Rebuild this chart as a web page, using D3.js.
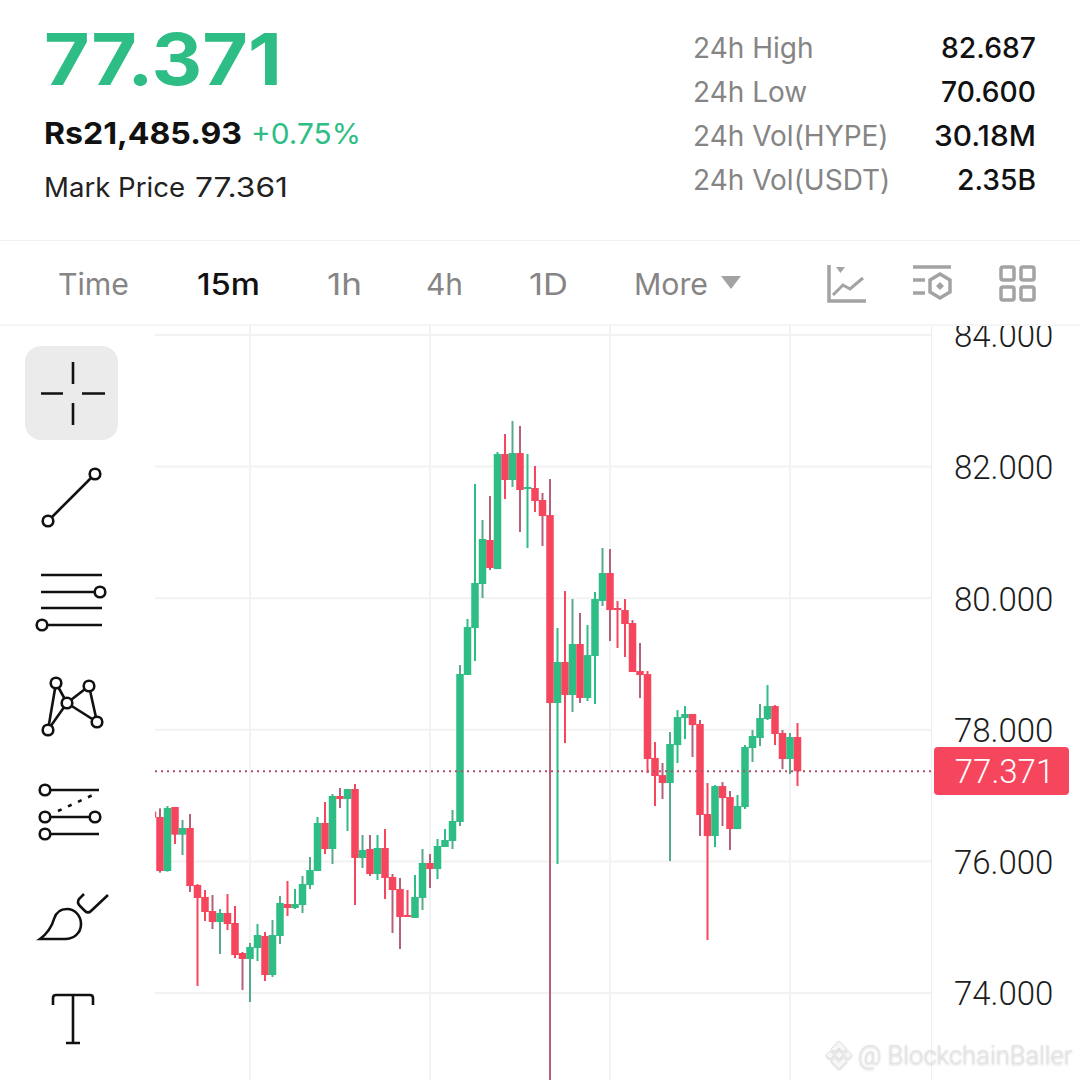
<!DOCTYPE html>
<html>
<head>
<meta charset="utf-8">
<script src="https://cdnjs.cloudflare.com/ajax/libs/d3/7.8.5/d3.min.js"></script>
<style>
    html, body { margin: 0; padding: 0; background: #fff; }
    svg { display: block; }
    text { font-family: Inter, "Noto Sans", sans-serif; }
</style>
</head>
<body>
<svg id="chart" width="1080" height="1080"></svg>
<script>
// candles, oldest first (the first one is cut by the left edge of the plot)
var opens = [76.756, 76.675, 75.854, 76.827, 76.406, 76.508, 75.641, 75.459, 75.246, 75.079, 75.216, 75.064, 74.608, 74.517, 74.684, 74.866, 74.273, 74.866, 75.352, 75.292, 75.337, 75.641, 75.854, 76.584, 76.188, 76.994, 76.948, 77.100, 76.052, 76.188, 75.808, 76.204, 75.763, 75.580, 75.185, 75.140, 75.444, 75.976, 75.884, 76.219, 76.310, 76.599, 78.833, 79.547, 80.216, 80.884, 80.443, 82.191, 81.796, 82.206, 81.659, 81.675, 81.492, 81.264, 78.407, 79.030, 78.529, 79.304, 78.483, 79.121, 79.957, 80.383, 79.851, 79.820, 79.623, 78.893, 78.847, 77.571, 77.312, 77.191, 77.768, 78.179, 78.240, 78.088, 76.720, 76.385, 77.145, 76.978, 76.492, 76.826, 77.723, 77.875, 78.164, 78.361, 77.951, 77.556, 77.890];
var highs = [76.756, 76.806, 76.842, 76.827, 76.629, 76.720, 75.656, 75.565, 75.489, 75.276, 75.504, 75.322, 74.623, 74.760, 75.049, 74.927, 75.109, 75.474, 75.702, 75.580, 75.778, 76.067, 76.675, 76.903, 77.024, 77.115, 77.100, 77.176, 76.401, 76.401, 76.401, 76.492, 75.808, 75.748, 75.565, 75.793, 76.188, 76.112, 76.340, 76.492, 76.781, 78.984, 79.684, 81.735, 81.188, 81.553, 82.222, 82.495, 82.693, 82.617, 82.191, 82.009, 81.599, 81.811, 79.547, 80.109, 79.988, 79.775, 79.592, 80.094, 80.763, 80.747, 79.957, 79.987, 79.668, 79.319, 78.893, 77.814, 77.495, 77.966, 78.300, 78.361, 78.240, 78.148, 77.191, 77.160, 77.206, 77.069, 77.009, 77.768, 77.996, 78.392, 78.680, 78.376, 77.996, 77.951, 78.103];
var lows = [76.665, 75.829, 75.844, 76.264, 76.097, 75.535, 74.106, 75.094, 74.972, 74.593, 74.957, 74.532, 74.045, 73.863, 74.486, 74.182, 74.243, 74.745, 75.170, 75.276, 75.216, 75.580, 75.854, 76.112, 75.960, 76.811, 76.462, 75.337, 75.900, 75.778, 75.717, 75.428, 74.912, 74.669, 75.155, 75.140, 75.261, 75.596, 75.732, 76.219, 76.188, 76.538, 78.833, 79.045, 80.003, 80.428, 80.443, 81.507, 81.690, 81.006, 80.763, 81.310, 80.793, 72.400, 75.960, 77.799, 78.270, 78.407, 78.437, 78.392, 79.881, 79.349, 79.243, 79.106, 78.878, 78.483, 77.343, 76.841, 76.948, 76.005, 77.495, 77.860, 77.586, 76.385, 74.805, 76.218, 76.537, 76.173, 76.492, 76.796, 77.510, 77.753, 78.148, 77.768, 77.404, 77.328, 77.145];
var closes = [76.665, 75.854, 76.811, 76.406, 76.508, 75.626, 75.444, 75.231, 75.079, 75.216, 75.049, 74.577, 74.517, 74.699, 74.881, 74.273, 74.881, 75.368, 75.292, 75.352, 75.656, 75.869, 76.584, 76.188, 76.994, 76.948, 77.100, 76.052, 76.173, 75.808, 76.204, 75.748, 75.565, 75.155, 75.155, 75.459, 75.976, 75.884, 76.234, 76.325, 76.614, 78.848, 79.562, 80.231, 80.899, 80.459, 82.191, 81.796, 82.206, 81.644, 81.690, 81.477, 81.249, 78.407, 79.030, 78.529, 79.304, 78.483, 79.136, 79.988, 80.383, 79.820, 79.820, 79.607, 78.878, 78.832, 77.556, 77.297, 77.191, 77.784, 78.194, 78.240, 78.072, 76.705, 76.385, 77.145, 76.963, 76.492, 76.841, 77.738, 77.905, 78.179, 78.361, 77.936, 77.556, 77.890, 77.371];

var priceTicks = [84, 82, 80, 78, 76, 74];
var timeGridCandles = [13, 37, 61, 85];
var lastPrice = 77.371;

var statLabels = ['24h High', '24h Low', '24h Vol(HYPE)', '24h Vol(USDT)'];
var statValues = ['82.687', '70.600', '30.18M', '2.35B'];
var tabLabels = ['Time', '15m', '1h', '4h', '1D', 'More'];

// where the text runs in the picture, Inter is a little narrower than the app font
var statWidths = [95, 95, 102, 79];
var tabStarts = [58, 197, 327, 426, 529, 634];
var tabWidths = [71, 63, 35, 37, 39, 74];

var GREEN = '#2ebd85', RED = '#f6465d';
var GREEN_MUTED = '#57a98b', RED_MUTED = '#b3627a';
var GREY = '#858585', ICON_GREY = '#a3a3a3', INK = '#111111';
var THIN_FONT = 'Roboto, sans-serif';

var svg = d3.select('#chart');

//////////////////////   CHART    //////////////////////

var x = d3.scaleLinear().domain([0, opens.length - 1]).range([152.5, 797.5]);
var y = d3.scaleLinear().domain([84, 74]).range([335, 993]);

svg.append('clipPath').attr('id', 'plot')
    .append('rect').attr('x', 155).attr('y', 325).attr('width', 777).attr('height', 755);
svg.append('clipPath').attr('id', 'axisInner')
    .append('rect').attr('x', -20).attr('y', 324).attr('width', 140).attr('height', 756);

var grid = svg.append('g');
grid.selectAll('line.h').data(priceTicks).enter().append('line')
    .attr('x1', 155).attr('x2', 932)
    .attr('y1', function (d) { return y(d); })
    .attr('y2', function (d) { return y(d); })
    .attr('stroke', '#f2f2f2').attr('stroke-width', 2);
grid.selectAll('line.v').data(timeGridCandles).enter().append('line')
    .attr('x1', function (d) { return x(d); })
    .attr('x2', function (d) { return x(d); })
    .attr('y1', 325).attr('y2', 1080)
    .attr('stroke', '#f2f2f2').attr('stroke-width', 2);
grid.append('line').attr('x1', 931.5).attr('x2', 931.5).attr('y1', 325).attr('y2', 1080)
    .attr('stroke', '#efefef').attr('stroke-width', 1);

var candles = svg.append('g').attr('clip-path', 'url(#plot)');
var rows = d3.range(opens.length);

function isUp(i) { return closes[i] >= opens[i]; }

// every 4 candles the wicks land between two device pixels and come out duller
function wickColor(i) {
    var dull = i % 4 < 2;
    if (isUp(i)) {
        return dull ? GREEN_MUTED : GREEN;
    }
    return dull ? RED_MUTED : RED;
}

candles.selectAll('rect.wick').data(rows).enter().append('rect')
    .attr('class', 'wick')
    .attr('x', function (i) { return x(i) - 1; })
    .attr('width', 2)
    .attr('y', function (i) { return y(highs[i]); })
    .attr('height', function (i) { return y(lows[i]) - y(highs[i]); })
    .attr('fill', wickColor);

candles.selectAll('rect.body').data(rows).enter().append('rect')
    .attr('class', 'body')
    .attr('x', function (i) { return x(i) - 3.75; })
    .attr('width', 7.5)
    .attr('y', function (i) { return y(Math.max(opens[i], closes[i])); })
    .attr('height', function (i) { return Math.max(1, Math.abs(y(opens[i]) - y(closes[i]))); })
    .attr('fill', function (i) { return isUp(i) ? GREEN : RED; });

svg.append('line')
    .attr('x1', 155).attr('x2', 932)
    .attr('y1', y(lastPrice)).attr('y2', y(lastPrice))
    .attr('stroke', '#b84a68').attr('stroke-width', 2).attr('stroke-dasharray', '2 4');

var yAxis = d3.axisRight(y).tickValues(priceTicks).tickSize(0).tickPadding(0)
    .tickFormat(d3.format('.3f'));
var axisG = svg.append('g')
    .attr('transform', 'translate(954,0)')
    .attr('clip-path', 'url(#axisInner)')
    .call(yAxis);
axisG.select('.domain').remove();
axisG.selectAll('text')
    .attr('font-size', 33)
    .attr('font-weight', 300)
    .attr('fill', '#1c1c1c')
    .attr('dy', '0.36em')
    .style('font-family', THIN_FONT);

svg.append('rect').attr('x', 934).attr('y', 747).attr('width', 135).attr('height', 48).attr('rx', 4).attr('fill', RED);
svg.append('text').attr('x', 1004.5).attr('y', 783).attr('text-anchor', 'middle')
    .attr('font-size', 33).attr('font-weight', 300).attr('fill', '#fff')
    .style('font-family', THIN_FONT)
    .text(d3.format('.3f')(lastPrice));

//////////////////////   HEADER    //////////////////////

function label(px, py, size, weight, color, txt, anchor, width) {
    var t = svg.append('text')
        .attr('x', px).attr('y', py)
        .attr('font-size', size).attr('font-weight', weight)
        .attr('fill', color).attr('text-anchor', anchor || 'start')
        .text(txt);
    if (width) {
        t.attr('textLength', width).attr('lengthAdjust', 'spacingAndGlyphs');
    }
    return t;
}

label(44, 85, 72, 700, GREEN, '77.371', 'start', 238);
label(44, 144, 30, 700, INK, 'Rs21,485.93', 'start', 198);
label(251, 144, 29, 400, GREEN, '+0.75%', 'start', 110);
label(44, 197, 27, 400, '#222', 'Mark Price', 'start', 141);
label(195, 197, 27, 400, '#222', '77.361', 'start', 93);

statLabels.forEach(function (s, i) {
    label(693, 58 + i * 44, 28, 400, GREY, s);
    label(1036, 58 + i * 44, 28, 500, INK, statValues[i], 'end', statWidths[i]);
});

svg.append('line').attr('x1', 0).attr('x2', 1080).attr('y1', 240.5).attr('y2', 240.5).attr('stroke', '#f0f0f0');
svg.append('line').attr('x1', 0).attr('x2', 1080).attr('y1', 325).attr('y2', 325).attr('stroke', '#f5f5f5').attr('stroke-width', 2);

tabLabels.forEach(function (s, i) {
    label(tabStarts[i], 295, 30, i === 1 ? 500 : 400, i === 1 ? INK : GREY, s, 'start', tabWidths[i]);
});
svg.append('path').attr('d', 'M721 276 L741 276 L731 289 Z').attr('fill', ICON_GREY);

var topIcons = svg.append('g').attr('fill', 'none').attr('stroke', ICON_GREY).attr('stroke-width', 3.5);
topIcons.append('path').attr('d', 'M829 265 V301 H866');
topIcons.append('path').attr('d', 'M836 267 H845 L840.5 273 Z').attr('fill', ICON_GREY).attr('stroke', 'none');
topIcons.append('path').attr('d', 'M833 295 L843 285 L850 289 L863 278').attr('stroke-width', 3);
topIcons.append('path').attr('d', 'M913 267 H951 M913 280 H925 M913 293 H925');
topIcons.append('path').attr('d', 'M940 274 L950 280 V292 L940 298 L930 292 V280 Z');
topIcons.append('path').attr('d', 'M940 282 L944 286 L940 290 L936 286 Z').attr('fill', ICON_GREY).attr('stroke', 'none');
[[1001, 267], [1021, 267], [1001, 287], [1021, 287]].forEach(function (p) {
    topIcons.append('rect').attr('x', p[0]).attr('y', p[1]).attr('width', 13).attr('height', 13).attr('rx', 2);
});

//////////////////////   DRAWING TOOLS    //////////////////////

svg.append('rect').attr('x', 25).attr('y', 346).attr('width', 93).attr('height', 94).attr('rx', 16).attr('fill', '#ebebeb');

var tools = svg.append('g').attr('fill', 'none').attr('stroke', INK).attr('stroke-width', 2.6);

function knob(cx, cy) {
    tools.append('circle').attr('cx', cx).attr('cy', cy).attr('r', 5.3).attr('fill', '#fff');
}

tools.append('path').attr('d', 'M73 362 V384 M73 403 V425 M41 393.5 H63 M82 393.5 H105');

tools.append('path').attr('d', 'M48 521 L95 474');
knob(95, 474);
knob(48, 521);

tools.append('path').attr('d', 'M41 575 H102 M41 592 H95 M41 608 H102 M48 625 H102');
knob(100, 592);
knob(42, 625);

tools.append('path').attr('d', 'M56 683 L48 730 L67 703 L56 683 M67 703 L89 686 L97 722 L67 703');
[[56, 683], [89, 686], [67, 703], [48, 730], [97, 722]].forEach(function (p) { knob(p[0], p[1]); });

tools.append('path').attr('d', 'M45 790 H99 M45 817 H95 M45 834 H99');
tools.append('path').attr('d', 'M58 811 L95 794').attr('stroke-dasharray', '4 7');
knob(45, 790);
knob(45, 817);
knob(95, 817);
knob(45, 834);

tools.append('path').attr('d', 'M40 939 C48 933 52 926 54 919 C56 912 61 909 67 909 C75 909 81 916 81 924 C81 933 74 939 65 939 Z');
tools.append('path').attr('d', 'M84 894 L79 899 C77 902 78 904 80 906 L85 911 C87 913 89 913 91 911 L108 895');

tools.append('path').attr('d', 'M53 1005 V998 Q53 995 56 995 H90 Q93 995 93 998 V1005 M73 995 V1043 M66 1043 H80');

//////////////////////   WATERMARK    //////////////////////

var mark = svg.append('g').style('filter', 'drop-shadow(0 1px 1px rgba(0,0,0,0.18))');
mark.append('path')
    .attr('d', 'M839 1041 L847 1049 L843 1052 L839 1048 L835 1052 L831 1049 Z M839 1069 L847 1061 L843 1058 L839 1062 L835 1058 L831 1061 Z M826 1055 L830 1051 L834 1055 L830 1059 Z M852 1055 L848 1051 L844 1055 L848 1059 Z M839 1051 L843 1055 L839 1059 L835 1055 Z')
    .attr('fill', '#f6f6f6').attr('stroke', '#e2e2e2').attr('stroke-width', 1);
mark.append('text').attr('x', 858).attr('y', 1064).attr('font-size', 25.6)
    .attr('font-weight', 300).attr('fill', '#e4e4e4')
    .style('font-family', THIN_FONT).text('@ BlockchainBaller');
</script>
</body>
</html>
